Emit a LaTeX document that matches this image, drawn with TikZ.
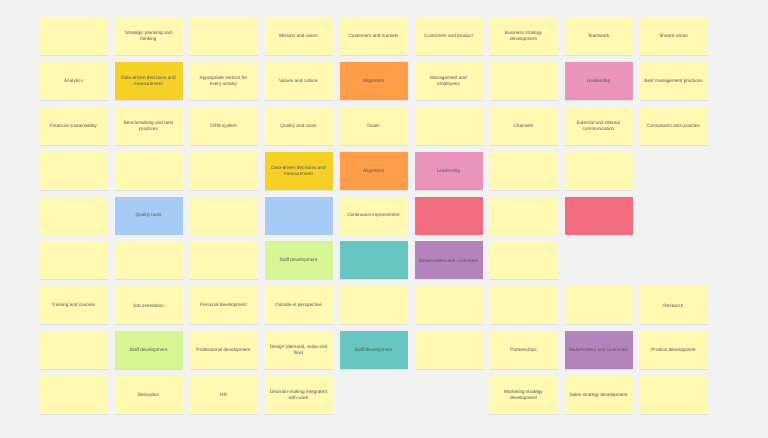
\documentclass[tikz,border=0pt]{standalone}
\usepackage{fontspec}
\setmainfont{Liberation Sans}
\usetikzlibrary{shadows}
\definecolor{bg}{HTML}{F2F2F2}
\definecolor{yel}{HTML}{FFF9B1}
\definecolor{gold}{HTML}{F5D128}
\definecolor{orng}{HTML}{FF9D48}
\definecolor{pnk}{HTML}{EA94BB}
\definecolor{blu}{HTML}{A6CCF5}
\definecolor{rd}{HTML}{F16C7F}
\definecolor{grn}{HTML}{D5F692}
\definecolor{tl}{HTML}{67C6C0}
\definecolor{prp}{HTML}{B384BB}
\definecolor{txt}{HTML}{555555}
\tikzset{
  note/.style={rectangle, minimum width=68pt, minimum height=38pt, inner sep=0pt,
    align=center, font=\fontsize{4.7}{5.8}\selectfont, text=txt, fill=yel,
    drop shadow={shadow xshift=0.4pt, shadow yshift=-0.8pt, opacity=0.08, fill=black}},
  Y/.style={note, fill=yel},
  G/.style={note, fill=gold},
  O/.style={note, fill=orng},
  P/.style={note, fill=pnk},
  B/.style={note, fill=blu},
  R/.style={note, fill=rd},
  N/.style={note, fill=grn},
  T/.style={note, fill=tl},
  V/.style={note, fill=prp}
}
\newcommand\stick[5]{\node[#4] (#1) at ({73.5+75*(#2-1)},{36.3+44.84*(#3-1)}) {#5};}
\begin{document}
\begin{tikzpicture}[x=1pt,y=-1pt]
\fill[bg] (0,0) rectangle (768,438);
\useasboundingbox (0,0) rectangle (768,438);
% row 1
\stick{a1}{1}{1}{Y}{}
\stick{a2}{2}{1}{Y}{Strategic planning and\\thinking}
\stick{a3}{3}{1}{Y}{}
\stick{a4}{4}{1}{Y}{Mission and vision}
\stick{a5}{5}{1}{Y}{Customers and markets}
\stick{a6}{6}{1}{Y}{Customers and product}
\stick{a7}{7}{1}{Y}{Business strategy\\development}
\stick{a8}{8}{1}{Y}{Teamwork}
\stick{a9}{9}{1}{Y}{Shared vision}
% row 2
\stick{b1}{1}{2}{Y}{Analytics}
\stick{b2}{2}{2}{G}{Data-driven decisions and\\measurement}
\stick{b3}{3}{2}{Y}{Appropriate metrics for\\every activity}
\stick{b4}{4}{2}{Y}{Values and culture}
\stick{b5}{5}{2}{O}{Alignment}
\stick{b6}{6}{2}{Y}{Management and\\employees}
\stick{b7}{7}{2}{Y}{}
\stick{b8}{8}{2}{P}{Leadership}
\stick{b9}{9}{2}{Y}{Best management practices}
% row 3
\stick{c1}{1}{3}{Y}{Financial sustainability}
\stick{c2}{2}{3}{Y}{Benchmarking and best\\practices}
\stick{c3}{3}{3}{Y}{CRM system}
\stick{c4}{4}{3}{Y}{Quality and costs}
\stick{c5}{5}{3}{Y}{Goals}
\stick{c6}{6}{3}{Y}{}
\stick{c7}{7}{3}{Y}{Channels}
\stick{c8}{8}{3}{Y}{External and internal\\communication}
\stick{c9}{9}{3}{Y}{Consultants and coaches}
% row 4
\stick{d1}{1}{4}{Y}{}
\stick{d2}{2}{4}{Y}{}
\stick{d3}{3}{4}{Y}{}
\stick{d4}{4}{4}{G}{Data-driven decisions and\\measurement}
\stick{d5}{5}{4}{O}{Alignment}
\stick{d6}{6}{4}{P}{Leadership}
\stick{d7}{7}{4}{Y}{}
\stick{d8}{8}{4}{Y}{}
% row 5
\stick{e1}{1}{5}{Y}{}
\stick{e2}{2}{5}{B}{Quality tools}
\stick{e3}{3}{5}{Y}{}
\stick{e4}{4}{5}{B}{}
\stick{e5}{5}{5}{Y}{Continuous improvement}
\stick{e6}{6}{5}{R}{}
\stick{e7}{7}{5}{Y}{}
\stick{e8}{8}{5}{R}{}
% row 6
\stick{f1}{1}{6}{Y}{}
\stick{f2}{2}{6}{Y}{}
\stick{f3}{3}{6}{Y}{}
\stick{f4}{4}{6}{N}{Staff development}
\stick{f5}{5}{6}{T}{}
\stick{f6}{6}{6}{V}{Stakeholders and customers}
\stick{f7}{7}{6}{Y}{}
% row 7
\stick{g1}{1}{7}{Y}{Training and courses}
\stick{g2}{2}{7}{Y}{Job orientation}
\stick{g3}{3}{7}{Y}{Personal development}
\stick{g4}{4}{7}{Y}{Outside-in perspective}
\stick{g5}{5}{7}{Y}{}
\stick{g6}{6}{7}{Y}{}
\stick{g7}{7}{7}{Y}{}
\stick{g8}{8}{7}{Y}{}
\stick{g9}{9}{7}{Y}{Research}
% row 8
\stick{h1}{1}{8}{Y}{}
\stick{h2}{2}{8}{N}{Staff development}
\stick{h3}{3}{8}{Y}{Professional development}
\stick{h4}{4}{8}{Y}{Design (demand, value and\\flow)}
\stick{h5}{5}{8}{T}{Staff development}
\stick{h6}{6}{8}{Y}{}
\stick{h7}{7}{8}{Y}{Partnerships}
\stick{h8}{8}{8}{V}{Stakeholders and customers}
\stick{h9}{9}{8}{Y}{Product development}
% row 9
\stick{i1}{1}{9}{Y}{}
\stick{i2}{2}{9}{Y}{Motivation}
\stick{i3}{3}{9}{Y}{HR}
\stick{i4}{4}{9}{Y}{Decision-making integrated\\with work}
\stick{i7}{7}{9}{Y}{Marketing strategy\\development}
\stick{i8}{8}{9}{Y}{Sales strategy development}
\stick{i9}{9}{9}{Y}{}
\end{tikzpicture}
\end{document}
